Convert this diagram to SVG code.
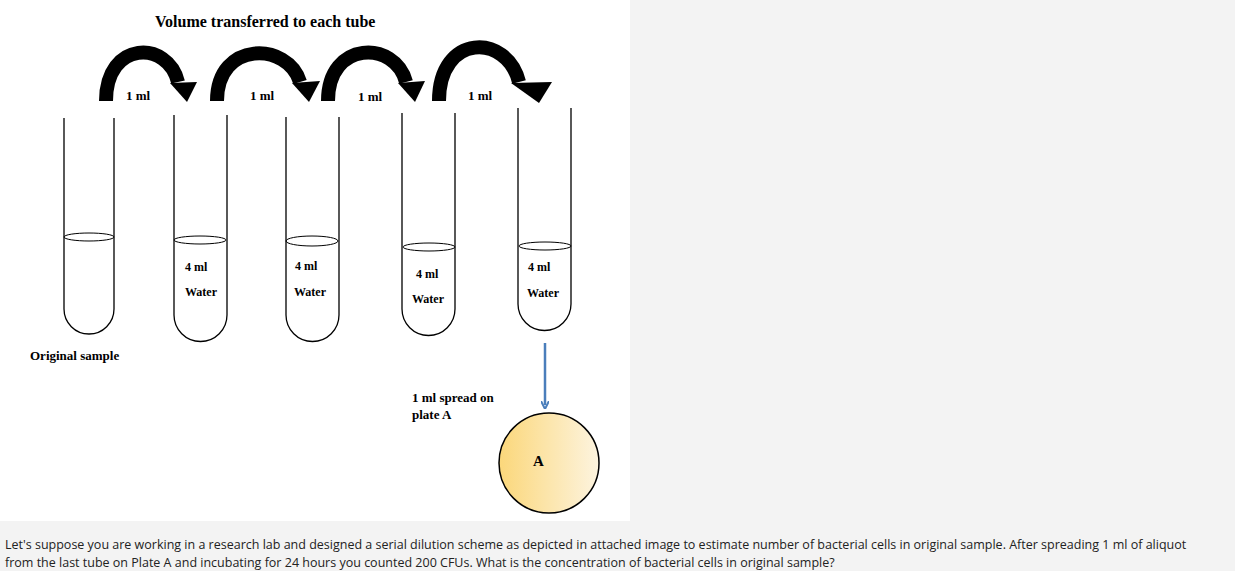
<svg xmlns="http://www.w3.org/2000/svg" width="1235" height="571" viewBox="0 0 1235 571">
<defs>
<linearGradient id="g" x1="0" x2="1" y1="0" y2="0"><stop offset="0" stop-color="#fbd77a"/><stop offset="1" stop-color="#fdf4df"/></linearGradient>
<marker id="bh" markerWidth="8" markerHeight="8" refX="4" refY="4" orient="auto" markerUnits="userSpaceOnUse" viewBox="0 0 8 8"><path d="M0,0 L8,4 L0,8" fill="none" stroke="#4a7ebb" stroke-width="2"/></marker>
</defs>
<style>
.t{font-family:"Liberation Serif",serif;font-weight:bold;font-size:13px;fill:#000}
.tube{fill:#fff;stroke:#000;stroke-width:1.3}
.arc{fill:none;stroke:#000;stroke-width:14}
.q{font-family:"Open Sans",sans-serif;font-size:12.5px;fill:#222}
</style>
<rect width="1235" height="571" fill="#f3f3f3"/>
<rect width="630" height="521" fill="#fff"/>
<text class="t" x="155" y="27" style="font-size:16px">Volume transferred to each tube</text>
<g id="connectors">
<path class="arc" d="M106,101 C106,40 168,40 178,82"/><polygon points="170,83 197,82 187,102"/>
<path class="arc" d="M217,101 C217,40 288,42 300,82"/><polygon points="292,83 320,81 309,102"/>
<path class="arc" d="M328,101 C328,40 395,40 406,82"/><polygon points="398,83 425,81 415,102"/>
<path class="arc" d="M439,101 C439,33 507,33 519,82"/><polygon points="511,83 552,82 539,103"/>
<line x1="545" y1="343" x2="545" y2="405" stroke="#4a7ebb" stroke-width="2.5" marker-end="url(#bh)"/>
</g>
<text class="t" x="126" y="100">1 ml</text>
<text class="t" x="250" y="100">1 ml</text>
<text class="t" x="358" y="101">1 ml</text>
<text class="t" x="468" y="100">1 ml</text>
<g id="tube1"><path class="tube" d="M64,118 V309 A25,25 0 0 0 114,309 V118"/><ellipse cx="89" cy="237" rx="25" ry="4" fill="none" stroke="#000"/></g>
<g id="tube2"><path class="tube" d="M174,115 V315 A26.5,26.5 0 0 0 227,315 V115"/><ellipse cx="200" cy="240" rx="26" ry="4" fill="none" stroke="#000"/><text class="t" x="185" y="271" style="font-size:12px">4 ml</text><text class="t" x="185" y="296" style="font-size:12px">Water</text></g>
<g id="tube3"><path class="tube" d="M286,117 V315 A26.5,26.5 0 0 0 339,315 V117"/><ellipse cx="312" cy="241" rx="26" ry="5" fill="none" stroke="#000"/><text class="t" x="295" y="270" style="font-size:12px">4 ml</text><text class="t" x="294" y="296" style="font-size:12px">Water</text></g>
<g id="tube4"><path class="tube" d="M402,113 V309 A26.5,26.5 0 0 0 455,309 V113"/><ellipse cx="429" cy="247" rx="26" ry="4" fill="none" stroke="#000"/><text class="t" x="416" y="278" style="font-size:12px">4 ml</text><text class="t" x="412" y="303" style="font-size:12px">Water</text></g>
<g id="tube5"><path class="tube" d="M518,108 V304 A26.5,26.5 0 0 0 571,304 V108"/><ellipse cx="545" cy="246" rx="26" ry="4" fill="none" stroke="#000"/><text class="t" x="528" y="271" style="font-size:12px">4 ml</text><text class="t" x="527" y="297" style="font-size:12px">Water</text></g>
<text class="t" x="30" y="360">Original sample</text>
<text class="t" x="412" y="402">1 ml spread on</text>
<text class="t" x="412" y="419">plate A</text>
<g id="plateA"><circle cx="549" cy="463" r="50" fill="url(#g)" stroke="#000" stroke-width="1.5"/><text class="t" x="533" y="466" style="font-size:15px">A</text></g>
<text class="q" x="5" y="549">Let's suppose you are working in a research lab and designed a serial dilution scheme as depicted in attached image to estimate number of bacterial cells in original sample. After spreading 1 ml of aliquot</text>
<text class="q" x="5" y="567">from the last tube on Plate A and incubating for 24 hours you counted 200 CFUs. What is the concentration of bacterial cells in original sample?</text>
</svg>
